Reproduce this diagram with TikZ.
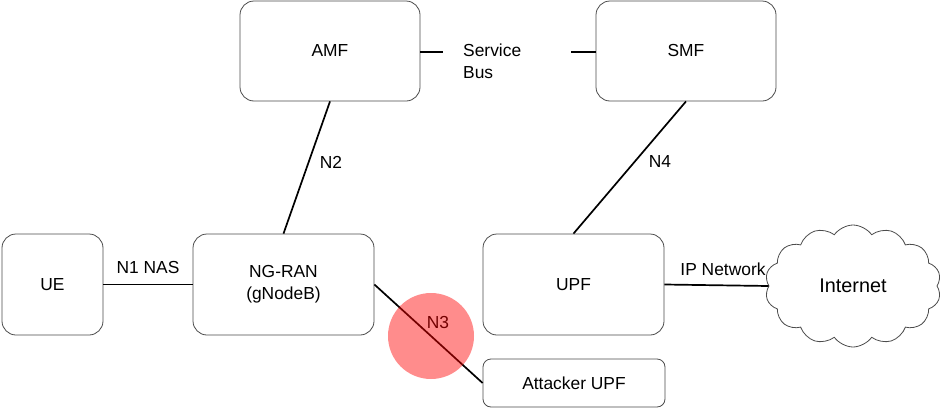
\documentclass[tikz,border=0pt]{standalone}
\usepackage{fontspec}
\setmainfont{Liberation Sans}
\usetikzlibrary{shapes.symbols}
\begin{document}
\begin{tikzpicture}[x=1pt,y=-1pt,
  box/.style={draw=black!70, line width=0.8pt, rounded corners=14pt, fill=white, inner sep=0pt, align=center},
  conn/.style={draw=black, line width=1.7pt},
  lbl/.style={inner sep=0pt, align=center},
  every node/.style={font=\fontsize{17.4}{22}\selectfont}]
\useasboundingbox (0,0) rectangle (943,410);
\node[box, minimum width=101pt, minimum height=101pt] (UE) at (52.5,284.5) {UE};
\node[box, minimum width=181pt, minimum height=101pt] (NG) at (283.5,284.5) {NG-RAN\\(gNodeB)};
\node[box, minimum width=180pt, minimum height=100pt] (AMF) at (330,51) {AMF};
\node[box, minimum width=180pt, minimum height=100pt] (SMF) at (686,51) {SMF};
\node[box, minimum width=181pt, minimum height=101pt] (UPF) at (573.5,284.5) {UPF};
\node[box, minimum width=182pt, minimum height=48pt, rounded corners=8pt] (ATT) at (574,383) {Attacker UPF};
\node[cloud, draw=black!70, line width=0.8pt, fill=white, cloud puffs=14, cloud puff arc=110, aspect=1.45, minimum width=176pt, minimum height=122pt, inner sep=0pt, font=\fontsize{19.8}{24}\selectfont] (NET) at (853,286) {Internet};
\coordinate (b1) at (443,52);
\coordinate (b2) at (571,52);
\draw[conn] (UE.east) -- (NG.west);
\draw[conn] (AMF.south) -- (NG.north);
\draw[conn] (SMF.south) -- (UPF.north);
\draw[conn] (UPF.east) -- (NET.west);
\draw[conn] (AMF.east |- b1) -- (b1);
\draw[conn] (b2) -- (SMF.west |- b2);
\draw[conn] (NG.east) -- (ATT.west);
\node[lbl] (l1) at (148,268) {N1 NAS};
\node[lbl] (l2) at (331,162) {N2};
\node[lbl] (l4) at (660,162) {N4};
\node[lbl] (lip) at (723,269) {IP Network};
\node[lbl, anchor=west, align=left] (bus) at (463,61) {Service\\Bus};
\node[lbl] (l3) at (438,323) {N3};
\fill[red, fill opacity=0.45] (431,336) circle[radius=43];
\end{tikzpicture}
\end{document}
